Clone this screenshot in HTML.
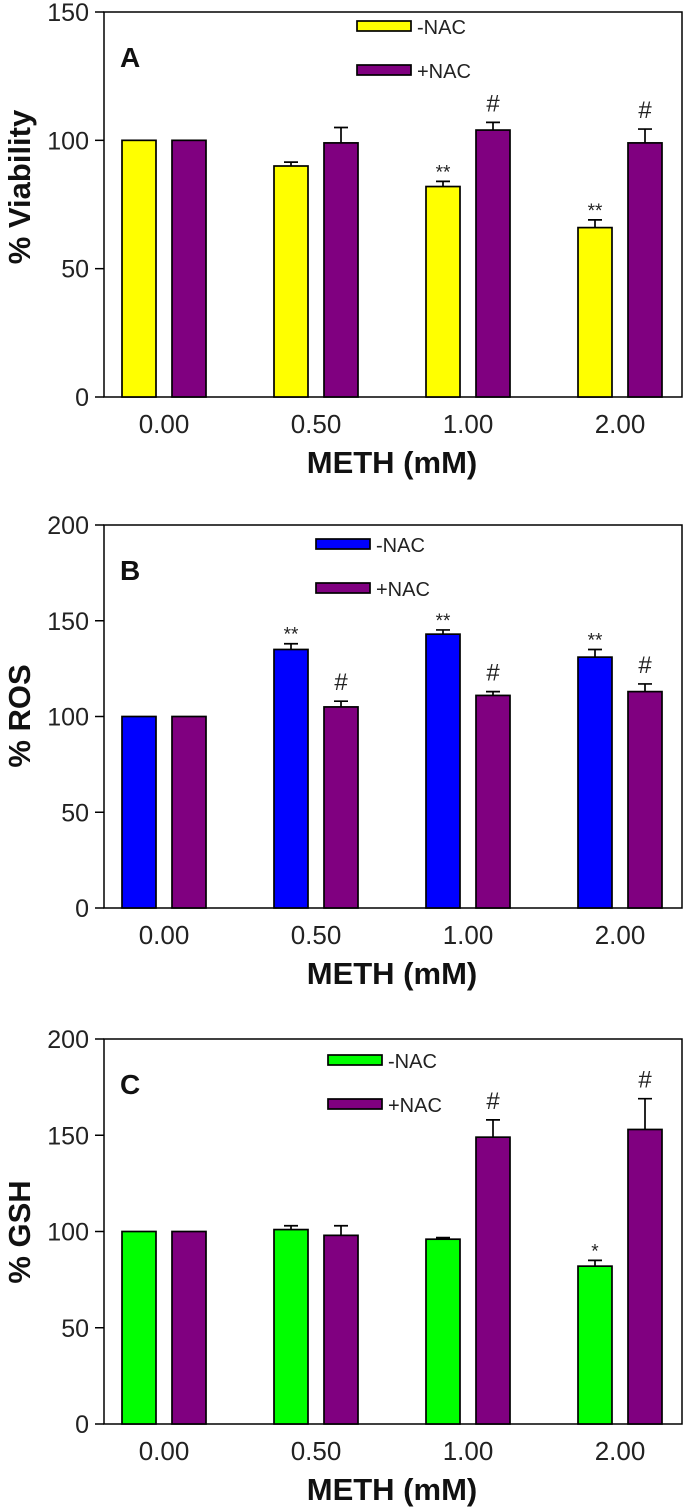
<!DOCTYPE html>
<html><head><meta charset="utf-8"><style>
body{margin:0;background:#fff;}
svg{display:block;font-family:"Liberation Sans",Arial,sans-serif;}
</style></head><body>
<svg id="fig" width="685" height="1509" viewBox="0 0 685 1509"></svg>
<script>
const categories = ["0.00","0.50","1.00","2.00"];
const aMinus = [100, 90, 82, 66];
const aMinusErr = [0, 1.5, 2, 3];
const aPlus = [100, 99, 104, 99];
const aPlusErr = [0, 6, 3, 5.4];
const aMinusMark = ["", "", "**", "**"];
const aPlusMark = ["", "", "#", "#"];
const aTicks = [0, 50, 100, 150];
const bMinus = [100, 135, 143, 131];
const bMinusErr = [0, 3, 2.2, 4];
const bPlus = [100, 105, 111, 113];
const bPlusErr = [0, 3, 2, 4];
const bMinusMark = ["", "**", "**", "**"];
const bPlusMark = ["", "#", "#", "#"];
const bTicks = [0, 50, 100, 150, 200];
const cMinus = [100, 101, 96, 82];
const cMinusErr = [0, 2, 0.8, 3];
const cPlus = [100, 98, 149, 153];
const cPlusErr = [0, 5, 9, 16];
const cMinusMark = ["", "", "", "*"];
const cPlusMark = ["", "", "#", "#"];
const cTicks = [0, 50, 100, 150, 200];

const NS = "http://www.w3.org/2000/svg";
const svg = document.getElementById("fig");
function mk(tag, attrs, parent, text){
  const e = document.createElementNS(NS, tag);
  for (const k in attrs) e.setAttribute(k, attrs[k]);
  if (text !== undefined) e.textContent = text;
  (parent || svg).appendChild(e);
  return e;
}

function panel(cfg){
  const g = mk("g", {});
  
  
  const x0 = 104, x1 = 682;
  const y = v => cfg.yZero - (v / cfg.yMax) * (cfg.yZero - cfg.yTop);
  const cx = i => 164 + i * 152;
  const fr = mk("rect", {x:x0, y:cfg.yTop, width:x1-x0, height:cfg.yZero-cfg.yTop, fill:"none", stroke:"#000", "stroke-width":1.5}, g);
  
  
  cfg.ticks.forEach(t => {
    const ty = y(t);
    const tl = mk("line", {x1:x0-9, x2:x0, y1:ty, y2:ty, stroke:"#000", "stroke-width":1.5}, g);
    
    
    const tx = mk("text", {x:89, y:ty+9, "text-anchor":"end", "font-size":25, fill:"#222"}, g, String(t));
    
    
  });
  const series = [
    {vals:cfg.minus, err:cfg.minusErr, marks:cfg.minusMark, color:cfg.color, off:-42, nm:"minus-nac"},
    {vals:cfg.plus, err:cfg.plusErr, marks:cfg.plusMark, color:"#800080", off:8, nm:"plus-nac"}
  ];
  series.forEach(s => {
    s.vals.forEach((v, i) => {
      const bx = cx(i) + s.off, bw = 34;
      const top = y(v);
      if (s.err[i] > 0) {
        const et = y(v + s.err[i]);
        const el = mk("path", {d:`M${bx+bw/2},${top} V${et} M${bx+bw/2-7},${et} H${bx+bw/2+7}`, stroke:"#000", "stroke-width":1.7, fill:"none"}, g);
        
        
      }
      const r = mk("rect", {x:bx, y:top, width:bw, height:cfg.yZero-top, fill:s.color, stroke:"#000", "stroke-width":1.7}, g);
      
      
      const m = s.marks[i];
      if (m) {
        const et = y(v + s.err[i]);
        const isHash = m === "#";
        const t = mk("text", {x:bx+bw/2, y: isHash ? et-11 : et-3, "text-anchor":"middle", "font-size": isHash ? 24 : 19, fill:"#222"}, g, m);
        
        
      }
    });
  });
  categories.forEach((c, i) => {
    const t = mk("text", {x:cx(i), y:cfg.yZero+36, "text-anchor":"middle", "font-size":26, fill:"#222"}, g, c);
    
    
  });
  const xt = mk("text", {x:392, y:cfg.yZero+76, "text-anchor":"middle", "font-size":31, "font-weight":"bold", fill:"#111"}, g, "METH (mM)");
  
  
  const yt = mk("text", {x:0, y:0, transform:`translate(30,${cfg.ytMid}) rotate(-90)`, "text-anchor":"middle", "font-size":31, "font-weight":"bold", fill:"#111"}, g, cfg.ytitle);
  
  
  const pl = mk("text", {x:120, y:cfg.yTop+55, "font-size":28, "font-weight":"bold", fill:"#111"}, g, cfg.letter);
  
  
  [[cfg.color, "-NAC", 0], ["#800080", "+NAC", 44]].forEach(([col, lab, dy]) => {
    const r = mk("rect", {x:cfg.legX, y:cfg.legY+dy, width:54, height:10, fill:col, stroke:"#000", "stroke-width":1.7}, g);
    
    
    const t = mk("text", {x:cfg.legX+60, y:cfg.legY+dy+13, "font-size":20, fill:"#222"}, g, lab);
    
    
  });
}

panel({name:"panel-a-viability", letter:"A", ytitle:"% Viability", yTop:12, yZero:397, yMax:150, ticks:aTicks, ytMid:187,
  minus:aMinus, minusErr:aMinusErr, plus:aPlus, plusErr:aPlusErr, minusMark:aMinusMark, plusMark:aPlusMark,
  color:"#ffff00", legX:357, legY:21});
panel({name:"panel-b-ros", letter:"B", ytitle:"% ROS", yTop:525, yZero:908, yMax:200, ticks:bTicks, ytMid:716,
  minus:bMinus, minusErr:bMinusErr, plus:bPlus, plusErr:bPlusErr, minusMark:bMinusMark, plusMark:bPlusMark,
  color:"#0000ff", legX:316, legY:539});
panel({name:"panel-c-gsh", letter:"C", ytitle:"% GSH", yTop:1039, yZero:1424, yMax:200, ticks:cTicks, ytMid:1232,
  minus:cMinus, minusErr:cMinusErr, plus:cPlus, plusErr:cPlusErr, minusMark:cMinusMark, plusMark:cPlusMark,
  color:"#00ff00", legX:328, legY:1055});
</script>
</body></html>
